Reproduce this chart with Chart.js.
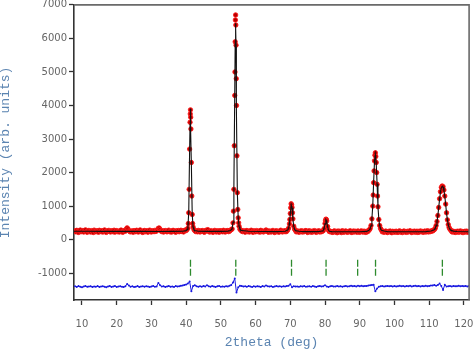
<!DOCTYPE html>
<html><head><meta charset="utf-8">
<script src="https://cdn.jsdelivr.net/npm/chart.js@4/dist/chart.umd.min.js"></script>
<style>html,body{margin:0;padding:0;background:#fff}#wrap{width:474px;height:350px}</style>
</head><body><div id="wrap"><canvas id="c" width="474" height="350"></canvas></div>
<script>
// Observed intensity, 2theta grid starting at obsStart with step obsStep (8 values = 2 degrees per row)
const obsStart = 8.0, obsStep = 0.25;
const observed = [
262,231,278,244,215,259,287,236,
248,271,226,263,292,239,218,257,
275,242,229,268,251,213,284,246,
233,266,255,221,279,247,238,270,
225,258,289,240,216,262,249,277,
243,228,267,254,234,281,223,259,
270,237,249,226,263,286,241,218,
256,274,252,310,352,318,266,243,
231,262,247,219,271,255,236,280,
244,227,266,290,238,252,214,261,
273,235,249,267,222,258,284,241,
229,264,251,238,277,245,262,296,
338,346,301,258,240,267,226,253,
271,244,232,259,283,236,250,224,
262,278,241,255,219,266,247,273,
235,258,281,244,262,229,271,286,
270,304,340,800,2700,3870,2300,750,
380,302,268,241,259,232,276,249,
228,263,247,271,238,220,256,282,
262,299,251,226,244,268,235,217,
253,276,240,229,264,248,222,270,
241,258,233,279,250,226,263,244,
272,238,255,283,296,320,500,1500,
4300,6700,4000,1400,650,400,310,282,
256,239,268,247,222,261,273,236,
249,227,258,281,240,218,263,245,
232,270,251,236,259,224,278,242,
255,229,246,267,288,271,237,221,
260,243,226,254,275,239,212,250,
266,234,248,222,259,281,245,230,
257,240,269,236,252,290,340,470,
780,1070,960,620,400,310,270,231,
262,244,219,255,238,267,226,249,
235,258,272,241,214,250,263,229,
247,221,256,238,269,232,217,254,
240,263,228,245,236,258,265,330,
480,610,560,390,280,240,252,226,
238,215,249,262,230,244,207,256,
227,251,234,211,266,240,222,248,
259,231,218,245,237,264,226,212,
243,256,229,250,238,221,260,235,
218,247,262,233,226,254,240,215,
251,236,262,290,330,420,620,1000,
1700,2350,2590,2300,1650,980,600,420,
330,285,233,247,219,240,256,228,
212,245,236,258,224,207,249,233,
241,220,253,237,215,246,262,228,
235,210,244,258,226,239,217,250,
229,247,264,232,211,243,236,255,
221,238,252,214,246,229,260,237,
244,218,233,256,227,241,263,230,
252,236,248,266,258,285,300,340,
420,540,720,960,1220,1430,1560,1600,
1580,1480,1300,1060,800,590,450,360,
310,280,241,226,250,233,214,245,
230,252,219,238,261,227,243,209,
236,248,224,255,231,219,246,238
];
// Extra observed points measured on the steep peak flanks [2theta, intensity]
const observedFine = [
[40.625,480],[40.875,1500],[41.125,3500],[41.1875,3750],[41.3125,3650],[41.375,3300],[41.625,1300],[41.875,480],
[53.625,850],[53.875,2800],[54.0625,5000],[54.125,5900],[54.1875,6550],[54.3125,6400],[54.375,5800],[54.4375,4800],[54.625,2500],[54.875,900],[55.125,500],
[69.875,600],[70.125,950],[70.375,1040],[70.625,800],
[80.125,560],[80.375,600],
[93.875,1330],[94.125,2050],[94.375,2520],[94.625,2480],[94.875,2000],[95.125,1300]
];
// Calculated profile [2theta, intensity]
const calculated = [
[7.7,250],[12,248],[16,247],[20,246],[24,245],[28,245],[32,244],[36,245],[39,252],[40,268],
[40.25,300],[40.5,350],[40.75,820],[41.0,2650],[41.125,3450],[41.1875,3750],[41.25,3900],[41.3125,3650],[41.375,3300],[41.5,2280],[41.75,760],[42.0,370],[42.25,300],[42.5,270],
[43.5,252],[46,246],[50,247],[52,255],[52.75,275],[53.0,295],[53.25,330],[53.5,520],[53.75,1550],[54.0,4350],
[54.125,5850],[54.1875,6300],[54.25,6450],[54.3125,6350],[54.375,5750],[54.4375,4800],[54.5,3950],[54.75,1380],[55.0,640],[55.25,395],[55.5,310],[56,270],[58,250],[62,242],[66,240],
[68.5,248],[69.25,285],[69.5,335],[69.75,460],[70.0,760],[70.25,1040],[70.5,940],[70.75,610],[71.0,395],[71.25,305],[71.5,268],
[72.5,250],[74,240],[78,240],[79.25,255],[79.5,275],[79.75,340],[80.0,470],[80.25,590],[80.5,545],[80.75,380],
[81.0,285],[81.25,252],[82,238],[86,234],[90,234],[92,245],[92.75,288],[93.0,325],[93.25,415],[93.5,615],
[93.75,1010],[94.0,1710],[94.25,2330],[94.5,2540],[94.75,2280],[95.0,1660],[95.25,990],[95.5,600],[95.75,415],[96.0,325],
[96.25,282],[97,255],[98,240],[102,234],[106,234],[109,240],[110.5,258],[111.25,285],[111.5,300],[111.75,338],[112.0,418],
[112.25,538],[112.5,715],[112.75,955],[113.0,1210],[113.25,1420],[113.5,1550],[113.75,1590],[114.0,1570],[114.25,1470],[114.5,1295],
[114.75,1055],[115.0,795],[115.25,588],[115.5,448],[115.75,358],[116.0,308],[116.25,280],[117,255],[118,243],[121.5,236]
];
// Difference curve (obs - calc, offset), grid from diffStart with step diffStep (8 values = 4 degrees per row)
const diffStart = 8.0, diffStep = 0.5;
const difference = [
-1392,-1411,-1385,-1404,-1420,-1398,-1379,-1408,
-1401,-1388,-1415,-1396,-1407,-1383,-1412,-1399,
-1390,-1405,-1418,-1394,-1381,-1409,-1397,-1386,
-1410,-1399,-1387,-1403,-1415,-1392,-1320,-1368,
-1405,-1393,-1411,-1402,-1384,-1416,-1398,-1390,
-1406,-1389,-1400,-1413,-1395,-1382,-1404,-1397,
-1290,-1362,-1401,-1388,-1412,-1394,-1383,-1407,
-1396,-1409,-1386,-1401,-1392,-1378,-1366,-1350,
-1340,-1310,-1250,-1540,-1380,-1362,-1392,-1405,
-1388,-1402,-1379,-1396,-1360,-1391,-1404,-1385,
-1398,-1411,-1390,-1383,-1405,-1394,-1402,-1388,
-1395,-1372,-1350,-1280,-1160,-1580,-1420,-1378,
-1386,-1400,-1393,-1408,-1381,-1397,-1412,-1390,
-1403,-1388,-1396,-1410,-1385,-1399,-1364,-1392,
-1401,-1387,-1409,-1395,-1383,-1400,-1392,-1406,
-1389,-1398,-1385,-1375,-1330,-1420,-1392,-1401,
-1394,-1408,-1387,-1399,-1383,-1404,-1395,-1390,
-1402,-1386,-1397,-1410,-1391,-1384,-1399,-1388,
-1360,-1395,-1410,-1392,-1386,-1401,-1396,-1383,
-1398,-1387,-1404,-1393,-1381,-1400,-1392,-1376,
-1389,-1380,-1395,-1372,-1388,-1376,-1391,-1384,
-1380,-1371,-1362,-1355,-1345,-1540,-1460,-1405,
-1392,-1384,-1398,-1387,-1379,-1393,-1386,-1399,
-1383,-1395,-1388,-1376,-1392,-1385,-1397,-1381,
-1390,-1378,-1394,-1386,-1373,-1389,-1382,-1395,
-1384,-1391,-1377,-1388,-1380,-1371,-1364,-1352,
-1372,-1350,-1310,-1385,-1500,-1345,-1400,-1390,
-1386,-1396,-1381,-1393,-1388,-1377,-1392,-1384,
-1390,-1381,-1395,-1386,-1392,-1388,-1390,-1390
];
// Bragg reflection positions (2theta) and the intensity span of their markers
const braggPositions = [41.25, 54.3, 70.35, 80.3, 89.4, 94.55, 113.8];
const braggSpan = [-600, -1080];
const xTicks = [10,20,30,40,50,60,70,80,90,100,110,120];
const yTicks = [-1000,0,1000,2000,3000,4000,5000,6000,7000];
const xRange = [7.7, 121.5];
const yRange = [-1800, 7000];

const obsData = observed.map((y,i)=>({x: obsStart + i*obsStep, y}))
  .concat(observedFine.map(([x,y])=>({x,y})))
  .sort((a,b)=>a.x-b.x);
const calcData = calculated.map(([x,y])=>({x,y}));
const diffData = difference.map((y,i)=>({x: diffStart + i*diffStep, y}));
const braggData = [];
braggPositions.forEach(p=>{ braggData.push({x:p,y:braggSpan[0]},{x:p,y:braggSpan[1]},{x:p,y:null}); });

const tickFont = {family:'DejaVu Sans', size:10};
const titleFont = {family:'Liberation Mono', size:13, lineHeight:0.8};
const titleColor = '#5b84b1';

const framePlugin = {
  id:'frame',
  afterDraw(chart){
    const {ctx, chartArea:a} = chart;
    ctx.save();
    ctx.strokeStyle = '#6a6a6a'; ctx.lineWidth = 1.6;
    ctx.beginPath();
    ctx.moveTo(a.left, a.top); ctx.lineTo(a.right, a.top); ctx.lineTo(a.right, a.bottom);
    ctx.stroke();
    ctx.restore();
  }
};

new Chart(document.getElementById('c'), {
  type:'line',
  data:{ datasets:[
    {label:'calc', data:calcData, borderColor:'#111', borderWidth:1.1, pointRadius:0, tension:0},
    {label:'bragg', data:braggData, borderColor:'#2e8b2e', borderWidth:1.3, borderDash:[7,2], pointRadius:0, spanGaps:false},
    {label:'diff', data:diffData, borderColor:'#1a1ae0', borderWidth:1, pointRadius:1, pointBackgroundColor:'#1a1ae0', pointBorderWidth:0, tension:0},
    {label:'obs', data:obsData, showLine:false, pointRadius:2.2, pointStyle:'circle', backgroundColor:'#b80000', borderColor:'#ff1a1a', pointBorderWidth:0.9}
  ]},
  options:{
    responsive:false, devicePixelRatio:1, animation:false,
    layout:{padding:{top:4, right:4, left:0, bottom:0}},
    plugins:{legend:{display:false}, tooltip:{enabled:false}},
    scales:{
      x:{type:'linear', min:xRange[0], max:xRange[1],
        afterBuildTicks:s=>{ s.ticks = xTicks.map(v=>({value:v})); },
        afterFit:s=>{ s.height = 50; s.paddingLeft = 0; s.paddingRight = 0; },
        grid:{display:true, drawOnChartArea:false, drawTicks:true, tickLength:5, tickColor:'#333', tickWidth:1.3},
        border:{display:true, color:'#333', width:1.6},
        ticks:{color:'#666', font:tickFont, padding:13, maxRotation:0, autoSkip:false, callback:v=>String(v)},
        title:{display:true, text:'2theta (deg)', color:titleColor, font:titleFont, padding:{top:0,bottom:2}}
      },
      y:{type:'linear', min:yRange[0], max:yRange[1],
        afterBuildTicks:s=>{ s.ticks = yTicks.map(v=>({value:v})); },
        afterFit:s=>{ s.width = 74; s.paddingTop = 0; s.paddingBottom = 0; },
        grid:{display:true, drawOnChartArea:false, drawTicks:true, tickLength:5, tickColor:'#333', tickWidth:1.3},
        border:{display:true, color:'#333', width:1.6},
        ticks:{color:'#666', font:tickFont, padding:2, autoSkip:false, callback:v=>String(v)},
        title:{display:true, text:'Intensity (arb. units)', color:titleColor, font:titleFont, padding:{top:0,bottom:0}}
      }
    }
  },
  plugins:[framePlugin]
});
</script></body></html>
